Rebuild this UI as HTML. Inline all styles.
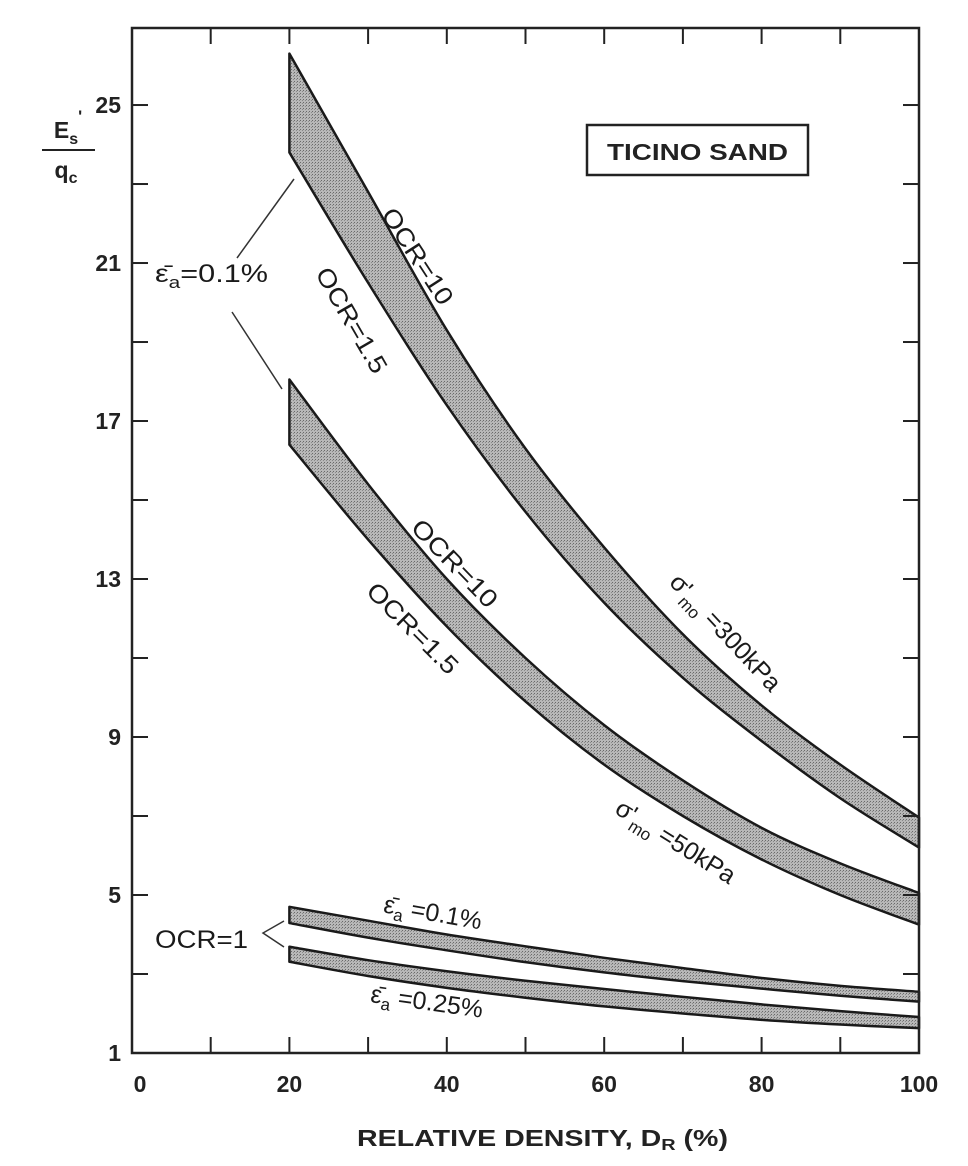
<!DOCTYPE html>
<html><head><meta charset="utf-8">
<style>
html,body{margin:0;padding:0;background:#fff;}
svg{display:block;font-family:"Liberation Sans",Arial,sans-serif;}
.t{font-weight:bold;font-size:23px;fill:#222;}
.a{font-size:25px;fill:#1a1a1a;}
</style></head>
<body>
<svg id="chart" width="968" height="1166" viewBox="0 0 968 1166" xmlns="http://www.w3.org/2000/svg">
<defs>
<pattern id="stip" width="3" height="3" patternUnits="userSpaceOnUse">
<rect width="3" height="3" fill="#b8b8b8"/><rect width="1" height="1" fill="#6a6a6a"/><rect x="2" y="1" width="1" height="1" fill="#8a8a8a"/>
</pattern>
</defs>
<g id="plot"></g>
<g>
<rect x="587" y="125" width="221" height="50" fill="#fff" stroke="#222" stroke-width="2.5"/>
<text class="t" x="607" y="160" font-size="24" textLength="181" lengthAdjust="spacingAndGlyphs">TICINO SAND</text>
<text class="a" transform="translate(418,256) rotate(57)" text-anchor="middle" dy="9" textLength="110" lengthAdjust="spacingAndGlyphs">OCR=10</text>
<text class="a" transform="translate(352,320) rotate(60)" text-anchor="middle" dy="9" textLength="118" lengthAdjust="spacingAndGlyphs">OCR=1.5</text>
<text class="a" transform="translate(455,563) rotate(46)" text-anchor="middle" dy="9" textLength="112" lengthAdjust="spacingAndGlyphs">OCR=10</text>
<text class="a" transform="translate(413,628) rotate(45)" text-anchor="middle" dy="9" textLength="118" lengthAdjust="spacingAndGlyphs">OCR=1.5</text>
<text class="a" transform="translate(726,632) rotate(47)" text-anchor="middle" dy="9">σ'<tspan font-size="17" dy="7">mo</tspan><tspan dy="-7"> =300kPa</tspan></text>
<text class="a" transform="translate(676,841) rotate(32)" text-anchor="middle" dy="9">σ'<tspan font-size="17" dy="7">mo</tspan><tspan dy="-7"> =50kPa</tspan></text>
<text class="a" x="155" y="282" textLength="113" lengthAdjust="spacingAndGlyphs">ε̄<tspan font-size="17" dy="6">a</tspan><tspan dy="-6">=0.1%</tspan></text>
<line x1="237" y1="258" x2="294" y2="179" stroke="#333" stroke-width="1.5"/>
<line x1="232" y1="312" x2="282" y2="389" stroke="#333" stroke-width="1.5"/>
<text class="a" x="155" y="948" textLength="93" lengthAdjust="spacingAndGlyphs">OCR=1</text>
<polyline points="284,921 263,933 284,947" fill="none" stroke="#333" stroke-width="1.5"/>
<text class="a" transform="translate(433,912) rotate(10)" text-anchor="middle" dy="9">ε̄<tspan font-size="17" dy="6">a</tspan><tspan dy="-6"> =0.1%</tspan></text>
<text class="a" transform="translate(427,1001) rotate(8)" text-anchor="middle" dy="9">ε̄<tspan font-size="17" dy="6">a</tspan><tspan dy="-6"> =0.25%</tspan></text>
<text class="t" x="68" y="138" text-anchor="middle" font-size="24">E<tspan font-size="16" dy="6">s</tspan><tspan dy="-22" font-size="17">'</tspan></text>
<line x1="42" y1="150" x2="95" y2="150" stroke="#222" stroke-width="2"/>
<text class="t" x="66" y="178" text-anchor="middle" font-size="24">q<tspan font-size="16" dy="5">c</tspan></text>
<text class="t" x="357" y="1146" font-size="21" textLength="371" lengthAdjust="spacingAndGlyphs">RELATIVE DENSITY, D<tspan font-size="16" dy="4">R</tspan><tspan dy="-4"> (%)</tspan></text>
</g>
</svg>
<script>
const dens = [20,30,40,50,60,70,80,90,100];
const s300ocr10 = [26.3,22.8,19.3,16.3,13.8,11.6,9.8,8.3,6.96];
const s300ocr15 = [23.8,20.5,17.4,14.7,12.4,10.5,8.9,7.45,6.2];
const s50ocr10 = [18.05,15.4,13.0,11.0,9.3,7.9,6.7,5.8,5.05];
const s50ocr15 = [16.4,14.0,11.8,9.9,8.3,7.0,5.9,5.0,4.25];
const ocr1e01top = [4.70,4.35,4.0,3.7,3.41,3.15,2.9,2.7,2.55];
const ocr1e01bot = [4.29,3.92,3.6,3.3,3.04,2.82,2.63,2.45,2.3];
const ocr1e025top = [3.69,3.35,3.07,2.83,2.62,2.42,2.23,2.06,1.91];
const ocr1e025bot = [3.31,2.95,2.65,2.4,2.18,2.0,1.84,1.72,1.63];
const xTicks = [0,20,40,60,80,100];
const yTicks = [1,5,9,13,17,21,25];

const L=132,R=919,T=28,B=1053;
const X=d=>L+(R-L)*d/100;
const Y=v=>B-(v-1)*(B-T)/(26.95-1);
const NS='http://www.w3.org/2000/svg';
const g=document.getElementById('plot');
function mk(tag,attrs){const e=document.createElementNS(NS,tag);for(const k in attrs)e.setAttribute(k,attrs[k]);g.appendChild(e);return e;}
function smooth(xs,ys){
  const p=xs.map((x,i)=>[X(x),Y(ys[i])]);let s='M'+p[0][0]+','+p[0][1];
  for(let i=0;i<p.length-1;i++){const p0=p[Math.max(0,i-1)],p1=p[i],p2=p[i+1],p3=p[Math.min(p.length-1,i+2)];
  s+='C'+(p1[0]+(p2[0]-p0[0])/6)+','+(p1[1]+(p2[1]-p0[1])/6)+' '+(p2[0]-(p3[0]-p1[0])/6)+','+(p2[1]-(p3[1]-p1[1])/6)+' '+p2[0]+','+p2[1];}
  return s;}
function band(top,bot,name){
  const rx=dens.slice().reverse(), rb=bot.slice().reverse();
  const d=smooth(dens,top)+'L'+X(100)+','+Y(bot[bot.length-1])+smooth(rx,rb).replace(/^M[^C]*/,'')+'Z';
  const e=mk('path',{d:d,fill:'url(#stip)',stroke:'#1a1a1a','stroke-width':2.5,'stroke-linejoin':'round'});
  
  
}
band(s300ocr10,s300ocr15,'band-300kpa');
band(s50ocr10,s50ocr15,'band-50kpa');
band(ocr1e01top,ocr1e01bot,'band-ocr1-strain-01');
band(ocr1e025top,ocr1e025bot,'band-ocr1-strain-025');

const fr=mk('rect',{x:L,y:T,width:R-L,height:B-T,fill:'none',stroke:'#222','stroke-width':2.5});


for(let d=10;d<100;d+=10){
  const t1=mk('line',{x1:X(d),x2:X(d),y1:B,y2:B-16,stroke:'#222','stroke-width':2});
  
  
  const t2=mk('line',{x1:X(d),x2:X(d),y1:T,y2:T+16,stroke:'#222','stroke-width':2});
  
  
}
for(let v=3;v<=25;v+=2){
  const t1=mk('line',{x1:L,x2:L+16,y1:Y(v),y2:Y(v),stroke:'#222','stroke-width':2});
  
  
  const t2=mk('line',{x1:R,x2:R-16,y1:Y(v),y2:Y(v),stroke:'#222','stroke-width':2});
  
  
}
xTicks.forEach(d=>{
  const t=mk('text',{x:X(d)+(d===0?8:0),y:1092,'text-anchor':'middle','class':'t'});
  t.textContent=d;
  
  
});
yTicks.forEach(v=>{
  const t=mk('text',{x:121,y:Y(v)+8,'text-anchor':'end','class':'t'});
  t.textContent=v;
  
  
});
</script>
</body></html>
